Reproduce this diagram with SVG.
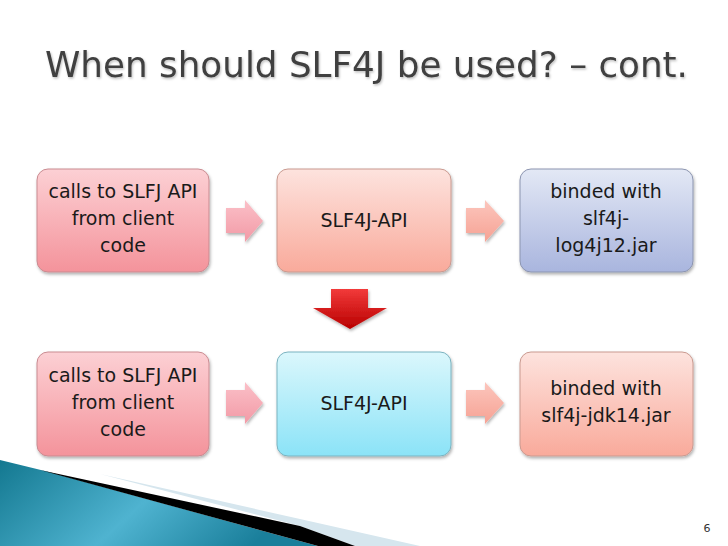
<svg xmlns="http://www.w3.org/2000/svg" width="728" height="546" viewBox="0 0 728 546">
<defs>
<linearGradient id="gPink" x1="0" y1="0" x2="0" y2="1"><stop offset="0" stop-color="#fcd0d4"/><stop offset="1" stop-color="#f4939b"/></linearGradient>
<linearGradient id="gSalmon" x1="0" y1="0" x2="0" y2="1"><stop offset="0" stop-color="#fde3de"/><stop offset="1" stop-color="#f9aa9b"/></linearGradient>
<linearGradient id="gBlue" x1="0" y1="0" x2="0" y2="1"><stop offset="0" stop-color="#e3e8f5"/><stop offset="1" stop-color="#a9b5de"/></linearGradient>
<linearGradient id="gCyan" x1="0" y1="0" x2="0" y2="1"><stop offset="0" stop-color="#dbf7fc"/><stop offset="1" stop-color="#8be3f7"/></linearGradient>
<linearGradient id="gArrPink" x1="0" y1="0" x2="0" y2="1"><stop offset="0" stop-color="#fbc0c8"/><stop offset="1" stop-color="#f29aa6"/></linearGradient>
<linearGradient id="gArrSalmon" x1="0" y1="0" x2="0" y2="1"><stop offset="0" stop-color="#fcc6bd"/><stop offset="1" stop-color="#f6a294"/></linearGradient>
<linearGradient id="gRed" x1="0" y1="0" x2="0" y2="1"><stop offset="0" stop-color="#f23a3a"/><stop offset="1" stop-color="#b80000"/></linearGradient>
<linearGradient id="gTeal" x1="0" y1="0" x2="1" y2="0.3"><stop offset="0" stop-color="#137890"/><stop offset="0.55" stop-color="#4fb3d0"/><stop offset="1" stop-color="#1a7f9b"/></linearGradient>
<filter id="sh" x="-10%" y="-10%" width="130%" height="130%"><feDropShadow dx="1" dy="2" stdDeviation="1.5" flood-color="#000" flood-opacity="0.3"/></filter>
<filter id="tsh" x="-5%" y="-20%" width="110%" height="150%"><feDropShadow dx="1" dy="1.5" stdDeviation="1" flood-color="#000" flood-opacity="0.25"/></filter>
</defs>
<style>
.box{stroke-width:1;filter:url(#sh)}
.p{fill:url(#gPink);stroke:#c98b91}
.s{fill:url(#gSalmon);stroke:#c99a90}
.b{fill:url(#gBlue);stroke:#8c95b0}
.c{fill:url(#gCyan);stroke:#7bb3c0}
.t{font-family:"DejaVu Sans",sans-serif;font-size:19px;fill:#1a1a1a;text-anchor:middle}
.ttl{font-family:"DejaVu Sans",sans-serif;font-size:36px;fill:#404040;filter:url(#tsh)}
.ap{fill:url(#gArrPink);filter:url(#sh)}
.as{fill:url(#gArrSalmon);filter:url(#sh)}
</style>
<rect width="728" height="546" fill="#ffffff"/>
<g id="decor">
<polygon points="0,460 45,471 318,546 0,546" fill="url(#gTeal)"/>
<polygon points="100,474 300,519 420,546 355,546 300,526" fill="#d6e6ee"/>
<polygon points="40,470 300,526 355,546 318,546" fill="#000000"/>
</g>
<text id="title" class="ttl" x="45" y="77" textLength="643" lengthAdjust="spacingAndGlyphs">When should SLF4J be used? – cont.</text>
<g id="connectors">
<polygon class="ap" points="226,208 245,208 245,200 263,221 245,242 245,233 226,233"/>
<polygon class="as" points="466,208 485,208 485,200 504,221 485,242 485,233 466,233"/>
<polygon class="ap" points="226,390 245,390 245,382 263,403 245,424 245,416 226,416"/>
<polygon class="as" points="466,390 485,390 485,382 504,403 485,424 485,416 466,416"/>
<polygon fill="url(#gRed)" filter="url(#sh)" points="331,289 368,289 368,308 387,308 350,329 313,308 331,308"/>
</g>
<g id="n1"><rect class="box p" x="37" y="169" width="172" height="103" rx="11"/>
<text class="t" x="123" y="198">calls to SLFJ API</text><text class="t" x="123" y="225">from client</text><text class="t" x="123" y="252">code</text></g>
<g id="n2"><rect class="box s" x="277" y="169" width="174" height="103" rx="11"/>
<text class="t" x="364" y="227">SLF4J-API</text></g>
<g id="n3"><rect class="box b" x="520" y="169" width="173" height="103" rx="11"/>
<text class="t" x="606" y="198">binded with</text><text class="t" x="606" y="225">slf4j-</text><text class="t" x="606" y="252">log4j12.jar</text></g>
<g id="n4"><rect class="box p" x="37" y="352" width="172" height="104" rx="11"/>
<text class="t" x="123" y="382">calls to SLFJ API</text><text class="t" x="123" y="409">from client</text><text class="t" x="123" y="436">code</text></g>
<g id="n5"><rect class="box c" x="277" y="352" width="174" height="104" rx="11"/>
<text class="t" x="364" y="410">SLF4J-API</text></g>
<g id="n6"><rect class="box s" x="520" y="352" width="173" height="104" rx="11"/>
<text class="t" x="606" y="395">binded with</text><text class="t" x="606" y="422">slf4j-jdk14.jar</text></g>
<text id="page" x="707" y="532" font-family="DejaVu Sans, sans-serif" font-size="11" fill="#333333" text-anchor="middle">6</text>
</svg>
